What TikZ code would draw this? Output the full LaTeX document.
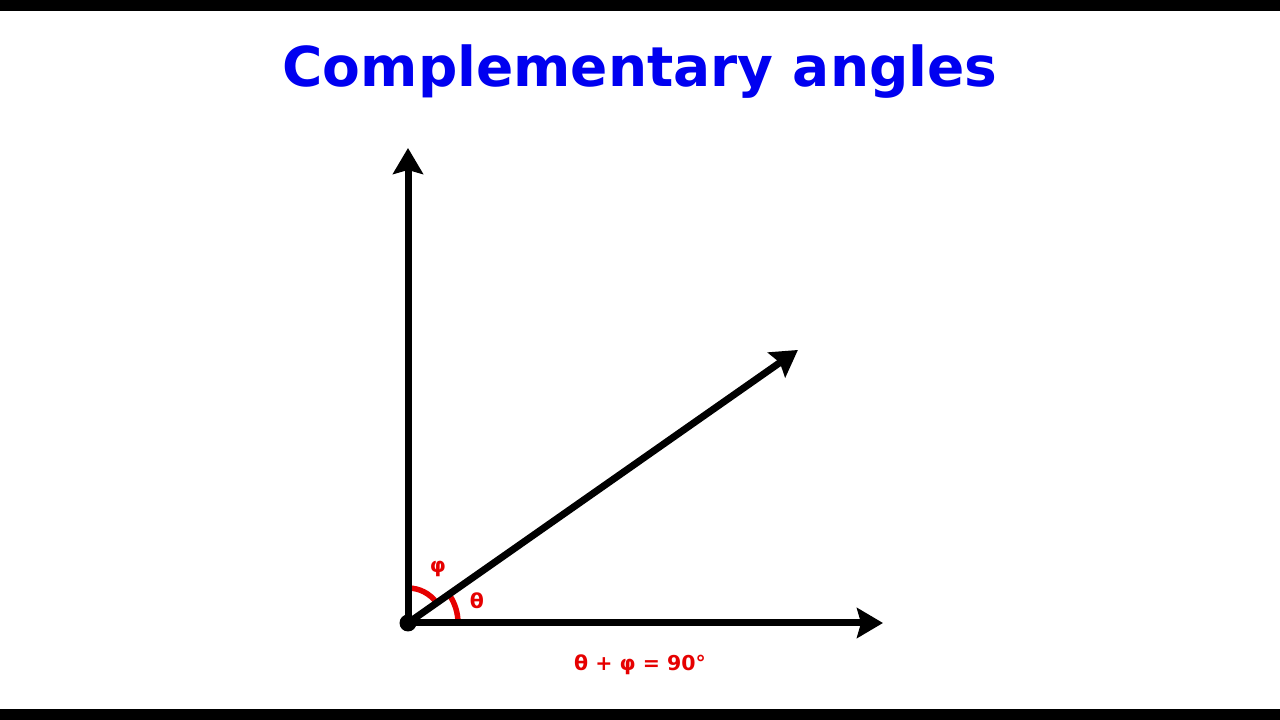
\documentclass[tikz,border=0pt]{standalone}
\usepackage{fontspec}
\setmainfont{DejaVu Sans}
\usetikzlibrary{arrows.meta,calc}
\definecolor{titleblue}{RGB}{0,0,240}
\definecolor{angred}{RGB}{230,0,0}
\begin{document}
\begin{tikzpicture}[x=1pt,y=1pt,
  axis/.style={line width=7pt,-{Stealth[length=26pt,width=30pt,inset=4pt]}},
  anglearc/.style={angred,line width=5.5pt},
  anglelabel/.style={text=angred,font=\bfseries\fontsize{20.5}{24}\selectfont,inner sep=0pt}]
\useasboundingbox (0,0) rectangle (1280,720);
\fill[white] (0,0) rectangle (1280,720);
\fill[black] (0,709) rectangle (1280,720);
\fill[black] (0,0) rectangle (1280,11);
\node[text=titleblue,font=\bfseries\fontsize{55}{62}\selectfont,inner sep=0pt] (title) at (640,648) {Complementary angles};
\coordinate (O) at (408,97);
\coordinate (V) at (408,572);
\coordinate (H) at (883,97);
\coordinate (D) at ($(O)+(35:476)$);
\draw[anglearc] ([shift={(90:35)}]O) arc[start angle=90,end angle=35,radius=35];
\draw[anglearc] ([shift={(0:50)}]O) arc[start angle=0,end angle=35,radius=50];
\draw[axis] (O) -- (V);
\draw[axis] (O) -- (H);
\draw[axis] (O) -- (D);
\fill[black] (O) circle[radius=8.5];
\node[anglelabel] (phi) at (438,151) {φ};
\node[anglelabel] (theta) at (477,119) {θ};
\node[anglelabel] (eq) at (640,55) {θ + φ = 90°};
\end{tikzpicture}
\end{document}
